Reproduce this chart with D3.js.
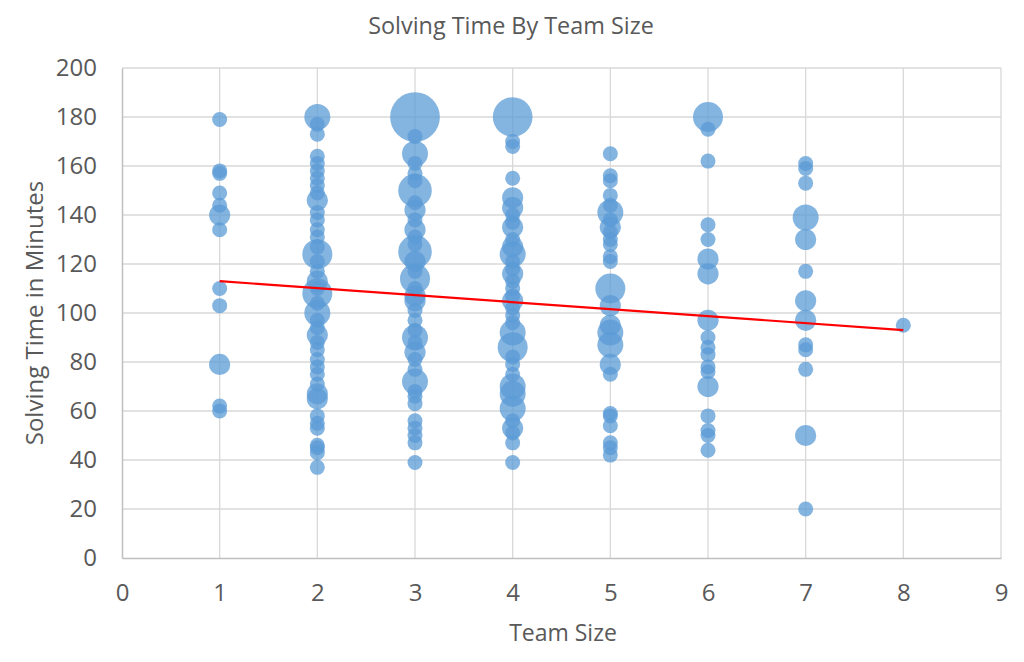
<!DOCTYPE html>
<html>
<head>
<meta charset="utf-8">
<script src="https://cdn.jsdelivr.net/npm/d3@7"></script>
<style>
  html, body { margin: 0; padding: 0; background: #fff; }
  svg { display: block; }
  text { font-family: "Open Sans", "Noto Sans", sans-serif; fill: #595959; }
</style>
</head>
<body>
<svg id="chart" width="1024" height="662"></svg>
<script>
// ---- data ----
const teamSizes = [1, 2, 3, 4, 5, 6, 7, 8];
const solvingTimes = [
  [179,158,157,149,144,140,134,110,103,79,62,60],
  [180,177,173,164,161,158,155,152,149,146,141,138,134,131,127,124,121,117,113,110,108,104,100,97,94,91,88,85,81,78,75,71,67,65,58,55,53,46,45,43,37],
  [180,172,165,161,157,154,150,145,142,138,134,131,128,125,121,117,114,110,107,105,101,97,93,90,88,84,81,77,72,68,66,63,56,53,50,47,39],
  [180,170,168,155,147,143,140,137,135,130,127,124,121,118,116,113,110,107,105,102,99,96,92,86,82,79,75,70,67,61,56,53,51,47,39],
  [165,156,154,148,144,141,138,135,133,130,128,123,121,110,103,95,92,87,79,75,59,58,54,47,45,42],
  [180,175,162,136,130,122,116,97,90,86,83,78,76,70,58,52,50,44],
  [161,159,153,139,130,117,105,97,87,85,77,50,20],
  [95]
];
const bubbleSizes = [
  [1,1,1,1,1,2,1,1,1,2,1,1],
  [3,1,1,1,1,1,1,1,1,2,1,1,1,1,1,4,1,1,2,1,4,1,3,1,1,2,1,1,1,1,1,1,2,2,1,1,1,1,1,1,1],
  [11,1,3,1,1,1,5,1,2,1,2,1,1,5,2,1,4,1,2,2,1,1,1,3,1,2,1,1,3,1,1,1,1,1,1,1,1],
  [7,1,1,1,2,2,1,1,2,1,2,3,1,1,2,1,1,1,2,1,1,1,3,4,1,1,1,3,3,3,1,2,1,1,1],
  [1,1,1,1,1,3,1,2,1,1,1,1,1,4,2,2,3,3,2,1,1,1,1,1,1,1],
  [4,1,1,1,1,2,2,2,1,1,1,1,1,2,1,1,1,1],
  [1,1,1,3,2,1,2,2,1,1,1,2,1],
  [1]
];
const trendX = [1, 8];
const trendY = [113, 93];
const xTicks = [0,1,2,3,4,5,6,7,8,9];
const yTicks = [0,20,40,60,80,100,120,140,160,180,200];

const title = "Solving Time By Team Size";
const xTitle = "Team Size";
const yTitle = "Solving Time in Minutes";

// ---- layout ----
const svg = d3.select("#chart");
const m = { left: 122, right: 1001, top: 68, bottom: 558 };

const x = d3.scaleLinear().domain([0, 9]).range([m.left, m.right]);
const y = d3.scaleLinear().domain([0, 200]).range([m.bottom, m.top]);
const maxSize = d3.max(bubbleSizes.flat());
const r = d3.scaleSqrt().domain([0, maxSize]).range([0, 7.5 * Math.sqrt(maxSize)]);

// gridlines
const grid = svg.append("g");
grid.selectAll("line.h").data(yTicks.filter(d => d > 0)).join("line")
  .attr("x1", m.left).attr("x2", m.right)
  .attr("y1", d => y(d)).attr("y2", d => y(d))
  .attr("stroke", "#d9d9d9").attr("stroke-width", 1.3);
grid.selectAll("line.v").data(xTicks.filter(d => d > 0)).join("line")
  .attr("x1", d => x(d)).attr("x2", d => x(d))
  .attr("y1", m.top).attr("y2", m.bottom)
  .attr("stroke", "#d9d9d9").attr("stroke-width", 1.3);

// axes
const xAxis = svg.append("g").attr("transform", `translate(0,${m.bottom})`)
  .call(d3.axisBottom(x).tickValues(xTicks).tickSize(0).tickPadding(26).tickFormat(d3.format("d")));
const yAxis = svg.append("g").attr("transform", `translate(${m.left},0)`)
  .call(d3.axisLeft(y).tickValues(yTicks).tickSize(0).tickPadding(25).tickFormat(d3.format("d")));
[xAxis, yAxis].forEach(a => {
  a.select(".domain").attr("stroke", "#bfbfbf").attr("stroke-width", 1.5);
  a.selectAll("text").attr("fill", "#595959").style("font-size", "24px")
    .style("font-family", '"Open Sans", sans-serif');
});
xAxis.selectAll("text").attr("dy", "0.71em");

// bubbles
const points = [];
teamSizes.forEach((t, i) => {
  solvingTimes[i].forEach((v, j) => points.push({ t, v, s: bubbleSizes[i][j] }));
});
points.sort((a, b) => b.s - a.s);
svg.append("g").selectAll("circle").data(points).join("circle")
  .attr("cx", d => x(d.t)).attr("cy", d => y(d.v)).attr("r", d => r(d.s))
  .attr("fill", "#5b9bd5").attr("fill-opacity", 0.75);

// trendline
svg.append("line")
  .attr("x1", x(trendX[0])).attr("y1", y(trendY[0]))
  .attr("x2", x(trendX[1])).attr("y2", y(trendY[1]))
  .attr("stroke", "#ff0000").attr("stroke-width", 2.2);

// titles
svg.append("text").attr("x", 511).attr("y", 34).attr("text-anchor", "middle")
  .style("font-size", "23.4px").text(title);
svg.append("text").attr("x", 563).attr("y", 641).attr("text-anchor", "middle")
  .style("font-size", "23px").text(xTitle);
svg.append("text").attr("transform", `translate(43,313) rotate(-90)`)
  .attr("text-anchor", "middle").style("font-size", "24px").text(yTitle);
</script>
</body>
</html>
